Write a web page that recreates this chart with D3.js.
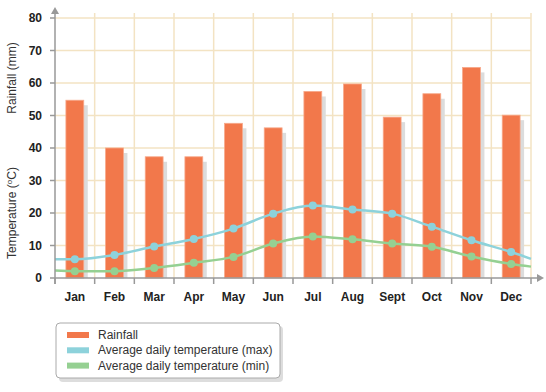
<!DOCTYPE html>
<html>
<head>
<meta charset="utf-8">
<script src="https://cdn.jsdelivr.net/npm/d3@7"></script>
<style>
  body { margin: 0; background: #fff; font-family: "Liberation Sans", Arial, sans-serif; }
  .tick-label { font-weight: bold; font-size: 12px; fill: #222; }
  .axis-title { font-size: 12px; fill: #333; }
  .legend-text { font-size: 12px; fill: #333; }
</style>
</head>
<body>
<svg id="chart" width="546" height="392"></svg>
<script>
// chart data
var months = ["Jan","Feb","Mar","Apr","May","Jun","Jul","Aug","Sept","Oct","Nov","Dec"];
var rainfall = [54.7, 40, 37.3, 37.3, 47.6, 46.2, 57.4, 59.7, 49.5, 56.7, 64.8, 50.1];
var tempMax = [5.8, 7.1, 9.7, 12.0, 15.2, 19.8, 22.3, 21.1, 19.8, 15.8, 11.6, 8.0];
var tempMin = [2.1, 2.1, 3.1, 4.7, 6.5, 10.6, 12.8, 11.9, 10.6, 9.6, 6.6, 4.3];
// line values where the curves meet the left and right edges of the plot
var tempMaxEdges = [5.8, 5.9];
var tempMinEdges = [2.3, 3.5];
var yTicks = [0, 10, 20, 30, 40, 50, 60, 70, 80];
var legendLabels = ["Rainfall", "Average daily temperature (max)", "Average daily temperature (min)"];
var colors = ["#f2784b", "#8dd2db", "#95d092"];

var svg = d3.select("#chart");
var margin = {left: 55, right: 15, top: 18, bottom: 114};
var width = 546 - margin.left - margin.right;
var height = 392 - margin.top - margin.bottom;

var x = d3.scaleBand().domain(months).range([margin.left, margin.left + width]);
var y = d3.scaleLinear().domain([0, 80]).range([margin.top + height, margin.top]);

// gridlines
var grid = svg.append("g");
grid.selectAll("line.h").data(yTicks.slice(1)).enter().append("line")
    .attr("x1", margin.left).attr("x2", margin.left + width)
    .attr("y1", function(d){ return y(d); }).attr("y2", function(d){ return y(d); })
    .style("stroke", "#f3e3c3").style("stroke-width", 1.5);
var bounds = months.map(function(m){ return x(m); }).concat([x.range()[1]]);
grid.selectAll("line.v").data(bounds.slice(1)).enter().append("line")
    .attr("x1", function(d){ return d; }).attr("x2", function(d){ return d; })
    .attr("y1", y(80) - 5).attr("y2", y(0))
    .style("stroke", "#f3e3c3").style("stroke-width", 1.5);

// bars with shadow
var barW = x.bandwidth() * 0.45;
var bars = svg.append("g");
bars.selectAll("rect.shadow").data(rainfall).enter().append("rect")
    .attr("x", function(d, i){ return x(months[i]) + (x.bandwidth() - barW) / 2 + 4; })
    .attr("y", function(d){ return y(d) + 5; })
    .attr("width", barW)
    .attr("height", function(d){ return y(0) - y(d) - 5; })
    .style("fill", "#dcdcdc");
bars.selectAll("rect.bar").data(rainfall).enter().append("rect")
    .attr("x", function(d, i){ return x(months[i]) + (x.bandwidth() - barW) / 2; })
    .attr("y", function(d){ return y(d); })
    .attr("width", barW)
    .attr("height", function(d){ return y(0) - y(d); })
    .style("fill", colors[0])
    .style("stroke", "#f7a88a").style("stroke-width", 0.8);

// temperature lines
function linePoints(vals, edges) {
    var pts = [[x.range()[0], edges[0]]];
    vals.forEach(function(v, i){ pts.push([x(months[i]) + x.bandwidth() / 2, v]); });
    pts.push([x.range()[1], edges[1]]);
    return pts;
}
var line = d3.line()
    .x(function(d){ return d[0]; })
    .y(function(d){ return y(d[1]); })
    .curve(d3.curveMonotoneX);

[[tempMax, tempMaxEdges, colors[1]], [tempMin, tempMinEdges, colors[2]]].forEach(function(s){
    svg.append("path")
        .attr("d", line(linePoints(s[0], s[1])))
        .style("fill", "none").style("stroke", s[2]).style("stroke-width", 2.5);
    svg.append("g").selectAll("circle").data(s[0]).enter().append("circle")
        .attr("cx", function(d, i){ return x(months[i]) + x.bandwidth() / 2; })
        .attr("cy", function(d){ return y(d); })
        .attr("r", 4)
        .style("fill", s[2]);
});

// axes
var axisColor = "#999";
svg.append("line").attr("x1", margin.left).attr("x2", margin.left)
    .attr("y1", y(0) + 6).attr("y2", 12).style("stroke", axisColor).style("stroke-width", 1.5);
svg.append("path").attr("d", "M" + margin.left + ",7L" + (margin.left - 4) + ",14L" + (margin.left + 4) + ",14Z")
    .style("fill", axisColor);
svg.append("line").attr("x1", margin.left).attr("x2", 538)
    .attr("y1", y(0)).attr("y2", y(0)).style("stroke", axisColor).style("stroke-width", 1.5);
svg.append("path").attr("d", "M544," + y(0) + "L537," + (y(0) - 4) + "L537," + (y(0) + 4) + "Z")
    .style("fill", axisColor);

// y ticks
svg.append("g").selectAll("line").data(yTicks).enter().append("line")
    .attr("x1", margin.left - 5).attr("x2", margin.left)
    .attr("y1", function(d){ return y(d); }).attr("y2", function(d){ return y(d); })
    .style("stroke", axisColor).style("stroke-width", 1.5);
svg.append("g").selectAll("text").data(yTicks).enter().append("text")
    .attr("class", "tick-label")
    .attr("x", 42).attr("y", function(d){ return y(d) + 4; })
    .attr("text-anchor", "end")
    .text(function(d){ return d; });

// x ticks
svg.append("g").selectAll("line").data(bounds).enter().append("line")
    .attr("x1", function(d){ return d; }).attr("x2", function(d){ return d; })
    .attr("y1", y(0)).attr("y2", y(0) + 6)
    .style("stroke", axisColor).style("stroke-width", 1.5);
svg.append("g").selectAll("text").data(months).enter().append("text")
    .attr("class", "tick-label")
    .attr("x", function(d){ return x(d) + x.bandwidth() / 2; })
    .attr("y", y(0) + 23)
    .attr("text-anchor", "middle")
    .text(function(d){ return d; });

// axis titles
svg.append("text").attr("class", "axis-title")
    .attr("transform", "translate(16,78) rotate(-90)")
    .attr("text-anchor", "middle")
    .text("Rainfall (mm)");
var tt = svg.append("text").attr("class", "axis-title")
    .attr("transform", "translate(16,213) rotate(-90)")
    .attr("text-anchor", "middle");
tt.append("tspan").text("Temperature (");
tt.append("tspan").attr("dy", -4).style("font-size", "8px").text("o");
tt.append("tspan").attr("dy", 4).text("C)");

// legend
var lg = svg.append("g");
lg.append("rect").attr("x", 59).attr("y", 326).attr("width", 224).attr("height", 56)
    .attr("rx", 4).style("fill", "#ddd");
lg.append("rect").attr("x", 56).attr("y", 323).attr("width", 224).attr("height", 55)
    .attr("rx", 4).style("fill", "#fff").style("stroke", "#aaa").style("stroke-width", 1);
var items = lg.selectAll("g.item").data(legendLabels).enter().append("g")
    .attr("transform", function(d, i){ return "translate(0," + (335 + i * 15.3) + ")"; });
items.append("rect").attr("x", 67).attr("y", -3).attr("width", 22).attr("height", 6)
    .style("fill", function(d, i){ return colors[i]; });
items.append("text").attr("class", "legend-text")
    .attr("x", 98).attr("y", 4)
    .text(function(d){ return d; });
</script>
</body>
</html>
